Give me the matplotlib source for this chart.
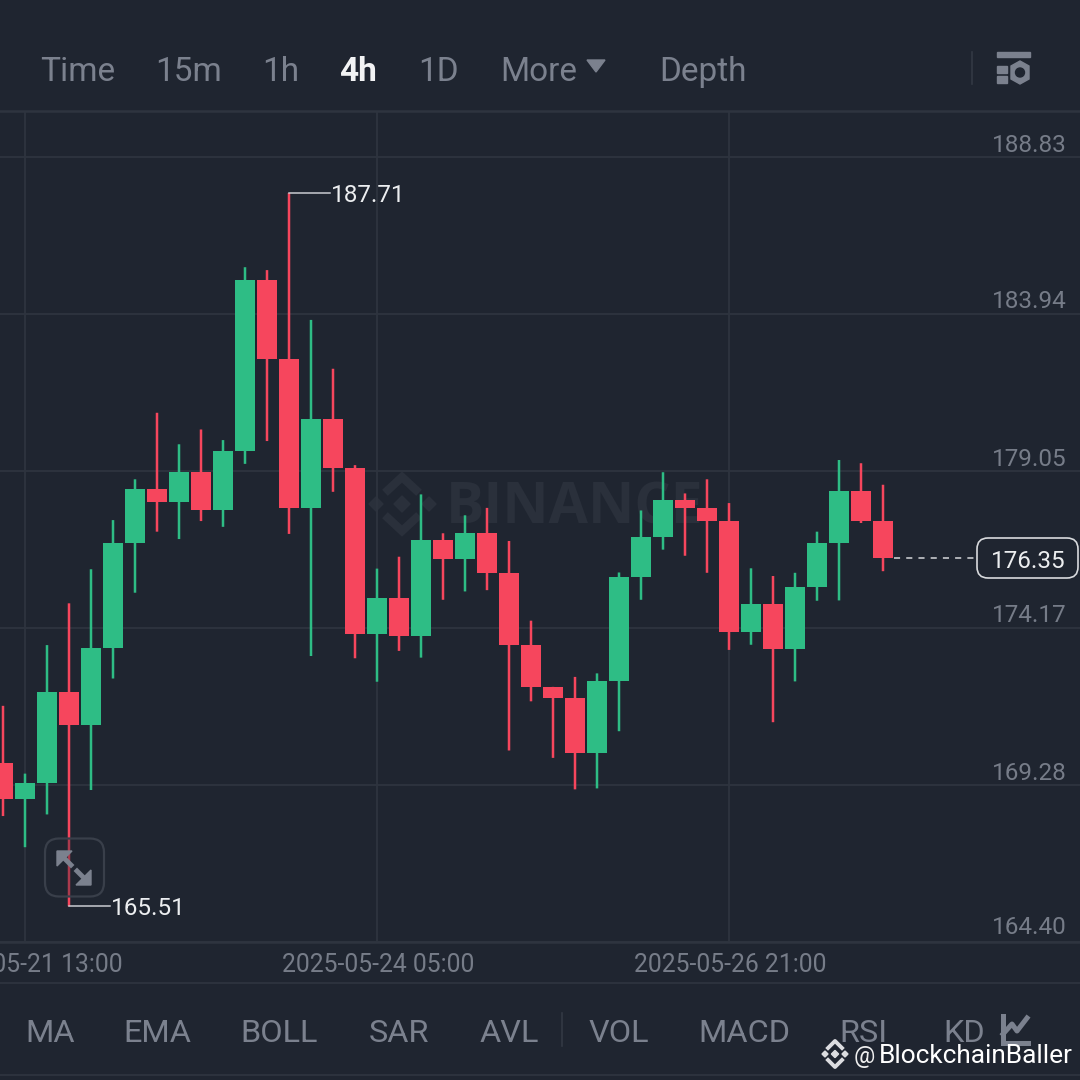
import matplotlib
matplotlib.use("Agg")
import matplotlib.pyplot as plt
from matplotlib.patches import FancyBboxPatch, Polygon, Rectangle

# ---- data ----
opens = [169.97,168.86,169.34,172.17,171.15,173.54,176.81,178.49,178.08,179.02,177.85,179.68,185.00,182.55,177.91,180.67,179.14,174.00,175.10,173.93,176.90,176.32,177.14,175.87,173.64,172.34,171.98,170.29,172.52,175.75,177.00,178.15,177.91,177.49,174.06,174.91,173.51,175.46,176.81,178.43,177.50]
highs = [171.75,169.64,173.64,174.94,176.00,177.53,178.80,180.87,179.89,180.35,180.02,185.40,185.31,187.71,183.76,182.24,179.24,176.02,176.39,178.33,177.12,177.68,177.91,176.88,174.40,172.34,172.65,172.76,175.90,177.83,179.02,178.36,178.80,178.06,176.03,175.79,175.89,177.17,179.40,179.30,178.63]
lows = [168.32,167.35,168.37,165.51,169.13,172.60,175.27,177.17,176.94,177.50,177.32,179.28,179.99,177.10,173.30,178.41,173.23,172.50,173.46,173.25,175.05,175.31,175.35,170.36,171.89,170.13,169.15,169.18,170.96,175.05,176.61,176.42,175.89,173.49,173.65,171.24,172.51,175.02,175.03,177.44,175.94]
closes = [168.86,169.34,172.17,171.15,173.54,176.81,178.49,178.08,179.02,177.85,179.68,185.00,182.55,177.91,180.67,179.14,174.00,175.10,173.93,176.90,176.32,177.14,175.87,173.64,172.34,171.98,170.29,172.52,175.75,177.00,178.15,177.91,177.49,174.06,174.91,173.51,175.46,176.81,178.43,177.50,176.35]
price_ticks = [188.83,183.94,179.05,174.17,169.28,164.40]
time_idx = [1,17,33]
time_labels = ["2025-05-21 13:00","2025-05-24 05:00","2025-05-26 21:00"]
tabs_top = ["Time","15m","1h","4h","1D","More","Depth"]
tabs_bottom = ["MA","EMA","BOLL","SAR","AVL","VOL","MACD","RSI","KD"]
last_price = 176.35
hi_price, hi_idx = 187.71, 13
lo_price, lo_idx = 165.51, 3

BG="#1f2530"; GRID="#2e343f"; GREEN="#2EBD85"; RED="#F6465D"; TXT="#7b818e"; AXT="#767c88"; WHITE="#eceef0"
plt.rcParams['font.family']=['Roboto','DejaVu Sans']
W=1080
fig=plt.figure(figsize=(W/100,W/100),dpi=100,facecolor=BG)

def overlay(z):
    a=fig.add_axes([0,0,1,1],zorder=z); a.set_xlim(0,W); a.set_ylim(W,0); a.axis('off'); a.patch.set_alpha(0); return a
back=overlay(0); front=overlay(3)

# main axes: 112..942 px tall
top_px,bot_px=112,942
ax=fig.add_axes([0,1-bot_px/W,1,(bot_px-top_px)/W],zorder=1)
ax.patch.set_alpha(0)
per_px=(188.83-164.40)/(942-157)
ax.set_ylim(164.40,188.83+(157-top_px)*per_px)
ax.set_xlim(-3/22,(W-3)/22)
for s in ax.spines.values(): s.set_visible(False)
ax.tick_params(left=False,bottom=False,labelleft=False,labelbottom=False)
ax.set_yticks(price_ticks); ax.set_xticks(time_idx)
ax.grid(True,color=GRID,lw=1.3); ax.set_axisbelow(True)

# watermark (under candles)
wm="#2a303b"
back.text(575,508,"BINANCE",color=wm,fontsize=41,fontweight='bold',ha='center',va='center',family='Open Sans')
for cx,cy,r in [(402,504,8),(376,504,7),(429,504,7)]:
    back.add_patch(Polygon([(cx-r,cy),(cx,cy-r),(cx+r,cy),(cx,cy+r)],color=wm))
back.plot([388,402,416],[490,477,490],color=wm,lw=6,solid_joinstyle='miter')
back.plot([388,402,416],[518,531,518],color=wm,lw=6,solid_joinstyle='miter')

# candles
idx=list(range(len(opens)))
cols=[GREEN if c>=o else RED for o,c in zip(opens,closes)]
wicks=ax.vlines(idx,lows,highs,colors=cols,lw=1.8,zorder=3)
wicks.set_snap(False)
ax.bar(idx,[abs(c-o) for o,c in zip(opens,closes)],bottom=[min(o,c) for o,c in zip(opens,closes)],width=0.885,color=cols,lw=0,zorder=4)

# hi/lo markers
ax.plot([hi_idx,hi_idx+1.87],[hi_price,hi_price],color="#c9ccd1",lw=1.1,zorder=5)
ax.plot([lo_idx,lo_idx+1.87],[lo_price,lo_price],color="#c9ccd1",lw=1.1,zorder=5)
ax.annotate(f"{hi_price:.2f}",(hi_idx+1.9,hi_price),xytext=(0,-1.5),textcoords='offset points',color=WHITE,fontsize=17.5,va='center',ha='left',annotation_clip=False)
ax.annotate(f"{lo_price:.2f}",(lo_idx+1.9,lo_price),xytext=(0,-1.5),textcoords='offset points',color=WHITE,fontsize=17.5,va='center',ha='left',annotation_clip=False)
ax.plot([len(opens)-1+0.5,(977-3)/22],[last_price,last_price],color="#d5d7da",lw=1.1,dashes=(4,4),zorder=5)

# dividers
for y,lw in [(110.5,1.8),(942,1.8),(983,1.3),(1075,1.3)]:
    front.plot([0,W],[y,y],color=GRID,lw=lw)
front.plot([972,972],[52,84],color="#333944",lw=1.2)
front.plot([562,562],[1013,1046],color="#333944",lw=1.2)

# top tabs
for s,x in zip(tabs_top,[40,155,262,339,418,500,659]):
    act=s=="4h"
    front.text(x,72,s,color="#f2f3f4" if act else TXT,fontsize=24,fontweight='bold' if act else 'normal',ha='left',va='center')
front.add_patch(Polygon([(587,60),(605,60),(596,72)],color=TXT))
# settings icon
front.add_patch(Rectangle((997,52),33,5,color=TXT))
for y in (66,76):
    front.add_patch(Rectangle((997,y),10,7,color=TXT))
front.add_patch(Polygon([(1020,61),(1029,66),(1029,79),(1020,84),(1011,79),(1011,66)],color=TXT))
front.add_patch(plt.Circle((1020,72.5),4.5,color=BG))

# price labels
for s,y in zip(price_ticks,[145,302,459,616,773,928]):
    front.text(1066.5,y,f"{s:.2f}",color=AXT,fontsize=17.5,ha='right',va='center')

# time labels
for s,i in zip(time_labels,time_idx):
    front.text(3+22*i+1,965,s,color=AXT,fontsize=17.8,ha='center',va='center',clip_on=True)

# bottom tabs
for s,x in zip(tabs_bottom,[25,123,240,369,480,589,698,839,943]):
    front.text(x,1034,s,color=TXT,fontsize=23.4,ha='left',va='center')
front.add_patch(Rectangle((975,1014),20,38,color=BG,alpha=0.55))
# indicator icon
front.plot([1003,1003,1028],[1016,1043,1043],color=TXT,lw=3.6,solid_joinstyle='miter')
front.plot([1003,1012,1017,1027],[1034,1024,1031,1018],color=TXT,lw=3.6)

# current price tag
tag=FancyBboxPatch((977,538),101,40,boxstyle="round,pad=0,rounding_size=11",fc=BG,ec="#d8dadd",lw=1.2)
front.add_patch(tag)
front.text(1028,561,f"{last_price:.2f}",color=WHITE,fontsize=17.5,ha='center',va='center')

# expand button
front.add_patch(FancyBboxPatch((45,838.5),59,58,boxstyle="round,pad=0,rounding_size=14",fc=(0.12,0.145,0.19,0.35),ec="#393f4a",lw=1.6))
front.add_patch(Polygon([(57,851),(72,851),(57,866)],color=TXT))
front.add_patch(Polygon([(91,885),(76,885),(91,870)],color=TXT))
front.plot([62,71],[856,865],color=TXT,lw=3.5)
front.plot([77,86],[871,880],color=TXT,lw=3.5)

# author watermark
front.text(854,1056,"@",color="#eeeeee",fontsize=17,ha='left',va='center')
front.text(878.5,1056,"BlockchainBaller",color="#ffffff",fontsize=18.9,ha='left',va='center')
lg="#dcdde0"
for cx,cy,r in [(835,1054,3.6),(825,1054,3),(845,1054,3)]:
    front.add_patch(Polygon([(cx-r,cy),(cx,cy-r),(cx+r,cy),(cx,cy+r)],color=lg))
front.plot([828,835,842],[1048,1041,1048],color=lg,lw=2.8)
front.plot([828,835,842],[1060,1067,1060],color=lg,lw=2.8)

fig.savefig("out.png",dpi=100,facecolor=BG)
